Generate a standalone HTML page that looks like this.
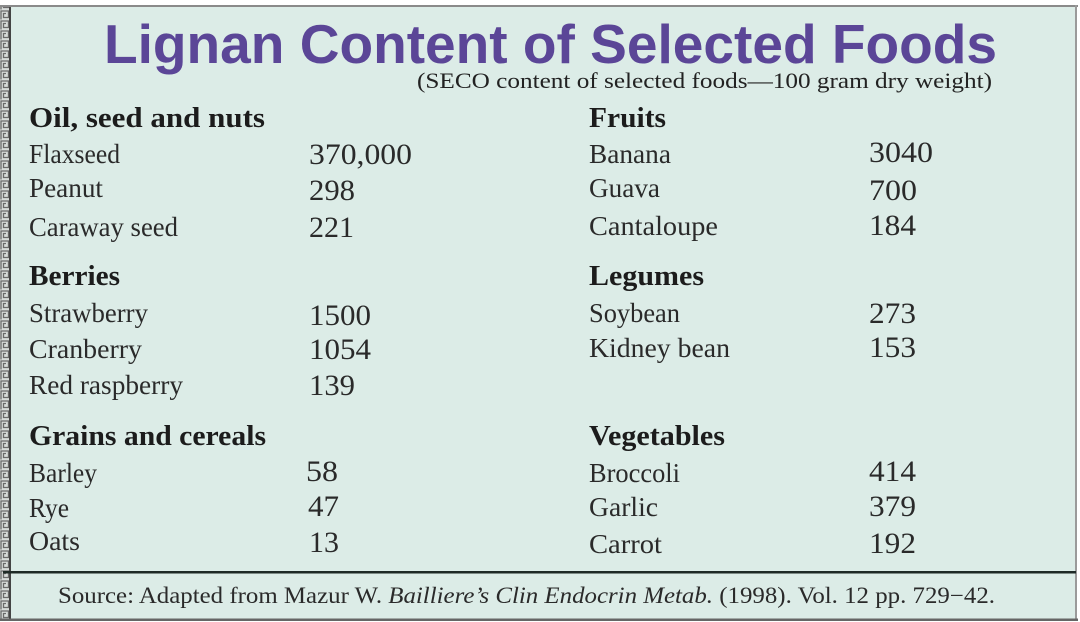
<!DOCTYPE html>
<html><head><meta charset="utf-8"><style>
html,body{margin:0;padding:0;background:#fff;}
svg{display:block;}
</style></head><body>
<svg width="1080" height="622" viewBox="0 0 1080 622" xmlns="http://www.w3.org/2000/svg">
<defs>
<pattern id="gk" x="0" y="0" width="10" height="10" patternUnits="userSpaceOnUse">
<rect width="10" height="10" fill="#d8dcda"/>
<path d="M1,9.5 V1 H8.5 V7.5 H3.5 V3.5 H6" fill="none" stroke="#6a6a6a" stroke-width="1.3"/>
</pattern>
</defs>
<rect width="1080" height="622" fill="#fff"/>
<rect x="10" y="6" width="1066" height="614" fill="#dcece7"/>
<rect x="0" y="5" width="9" height="616" fill="url(#gk)"/>
<rect x="9" y="5" width="2" height="616" fill="#444"/>
<rect x="0" y="5" width="1078" height="2" fill="#8a8a8a"/>
<rect x="1075" y="5" width="2" height="616" fill="#9a9a9a"/>
<rect x="3" y="571" width="1073" height="2.5" fill="#1e2a26"/>
<rect x="0" y="618.5" width="1078" height="2.5" fill="#666"/>

<text x="104" y="63" font-family="Liberation Sans, sans-serif" font-weight="bold" font-size="55" fill="#5b4697" textLength="893" lengthAdjust="spacingAndGlyphs">Lignan Content of Selected Foods</text>
<text x="417" y="88" font-family="Liberation Serif, serif" font-size="22" fill="#222" textLength="575" lengthAdjust="spacingAndGlyphs">(SECO content of selected foods—100 gram dry weight)</text>

<g font-family="Liberation Serif, serif" fill="#1c1c1c">
<g font-weight="bold" font-size="28">
<text x="29" y="127" textLength="236" lengthAdjust="spacingAndGlyphs">Oil, seed and nuts</text>
<text x="29" y="285" textLength="91" lengthAdjust="spacingAndGlyphs">Berries</text>
<text x="29" y="445" textLength="237" lengthAdjust="spacingAndGlyphs">Grains and cereals</text>
<text x="589" y="127" textLength="77" lengthAdjust="spacingAndGlyphs">Fruits</text>
<text x="589" y="285" textLength="115" lengthAdjust="spacingAndGlyphs">Legumes</text>
<text x="589" y="445" textLength="136" lengthAdjust="spacingAndGlyphs">Vegetables</text>
</g>
<g font-size="27" fill="#2a2a2a">
<text x="29" y="163" textLength="91" lengthAdjust="spacingAndGlyphs">Flaxseed</text>
<text x="29" y="197" textLength="74" lengthAdjust="spacingAndGlyphs">Peanut</text>
<text x="29" y="236" textLength="149" lengthAdjust="spacingAndGlyphs">Caraway seed</text>
<text x="29" y="322" textLength="119" lengthAdjust="spacingAndGlyphs">Strawberry</text>
<text x="29" y="358" textLength="113" lengthAdjust="spacingAndGlyphs">Cranberry</text>
<text x="29" y="394" textLength="154" lengthAdjust="spacingAndGlyphs">Red raspberry</text>
<text x="29" y="482" textLength="68" lengthAdjust="spacingAndGlyphs">Barley</text>
<text x="29" y="517" textLength="40" lengthAdjust="spacingAndGlyphs">Rye</text>
<text x="29" y="550" textLength="51" lengthAdjust="spacingAndGlyphs">Oats</text>

<text x="589" y="163" textLength="82" lengthAdjust="spacingAndGlyphs">Banana</text>
<text x="589" y="197" textLength="71" lengthAdjust="spacingAndGlyphs">Guava</text>
<text x="589" y="235" textLength="129" lengthAdjust="spacingAndGlyphs">Cantaloupe</text>
<text x="589" y="322" textLength="91" lengthAdjust="spacingAndGlyphs">Soybean</text>
<text x="589" y="357" textLength="141" lengthAdjust="spacingAndGlyphs">Kidney bean</text>
<text x="589" y="482" textLength="91" lengthAdjust="spacingAndGlyphs">Broccoli</text>
<text x="589" y="516" textLength="69" lengthAdjust="spacingAndGlyphs">Garlic</text>
<text x="589" y="553" textLength="73" lengthAdjust="spacingAndGlyphs">Carrot</text>
</g>
<g font-size="30" fill="#2a2a2a">
<text x="309" y="164" textLength="103" lengthAdjust="spacingAndGlyphs">370,000</text>
<text x="309" y="200" textLength="46" lengthAdjust="spacingAndGlyphs">298</text>
<text x="309" y="237" textLength="45" lengthAdjust="spacingAndGlyphs">221</text>
<text x="309" y="325" textLength="62" lengthAdjust="spacingAndGlyphs">1500</text>
<text x="309" y="359" textLength="62" lengthAdjust="spacingAndGlyphs">1054</text>
<text x="309" y="395" textLength="46" lengthAdjust="spacingAndGlyphs">139</text>
<text x="306" y="481" textLength="32" lengthAdjust="spacingAndGlyphs">58</text>
<text x="308" y="516" textLength="31" lengthAdjust="spacingAndGlyphs">47</text>
<text x="309" y="552" textLength="30" lengthAdjust="spacingAndGlyphs">13</text>

<text x="869" y="162" textLength="64" lengthAdjust="spacingAndGlyphs">3040</text>
<text x="869" y="200" textLength="48" lengthAdjust="spacingAndGlyphs">700</text>
<text x="869" y="235" textLength="47" lengthAdjust="spacingAndGlyphs">184</text>
<text x="869" y="323" textLength="47" lengthAdjust="spacingAndGlyphs">273</text>
<text x="869" y="357" textLength="47" lengthAdjust="spacingAndGlyphs">153</text>
<text x="869" y="481" textLength="47" lengthAdjust="spacingAndGlyphs">414</text>
<text x="869" y="516" textLength="47" lengthAdjust="spacingAndGlyphs">379</text>
<text x="869" y="553" textLength="47" lengthAdjust="spacingAndGlyphs">192</text>
</g>
<text x="58" y="603" font-size="23" fill="#2a2a2a" textLength="937" lengthAdjust="spacingAndGlyphs">Source: Adapted from Mazur W. <tspan font-style="italic">Bailliere’s Clin Endocrin Metab.</tspan> (1998). Vol. 12 pp. 729−42.</text>
</g>
</svg>
</body></html>
